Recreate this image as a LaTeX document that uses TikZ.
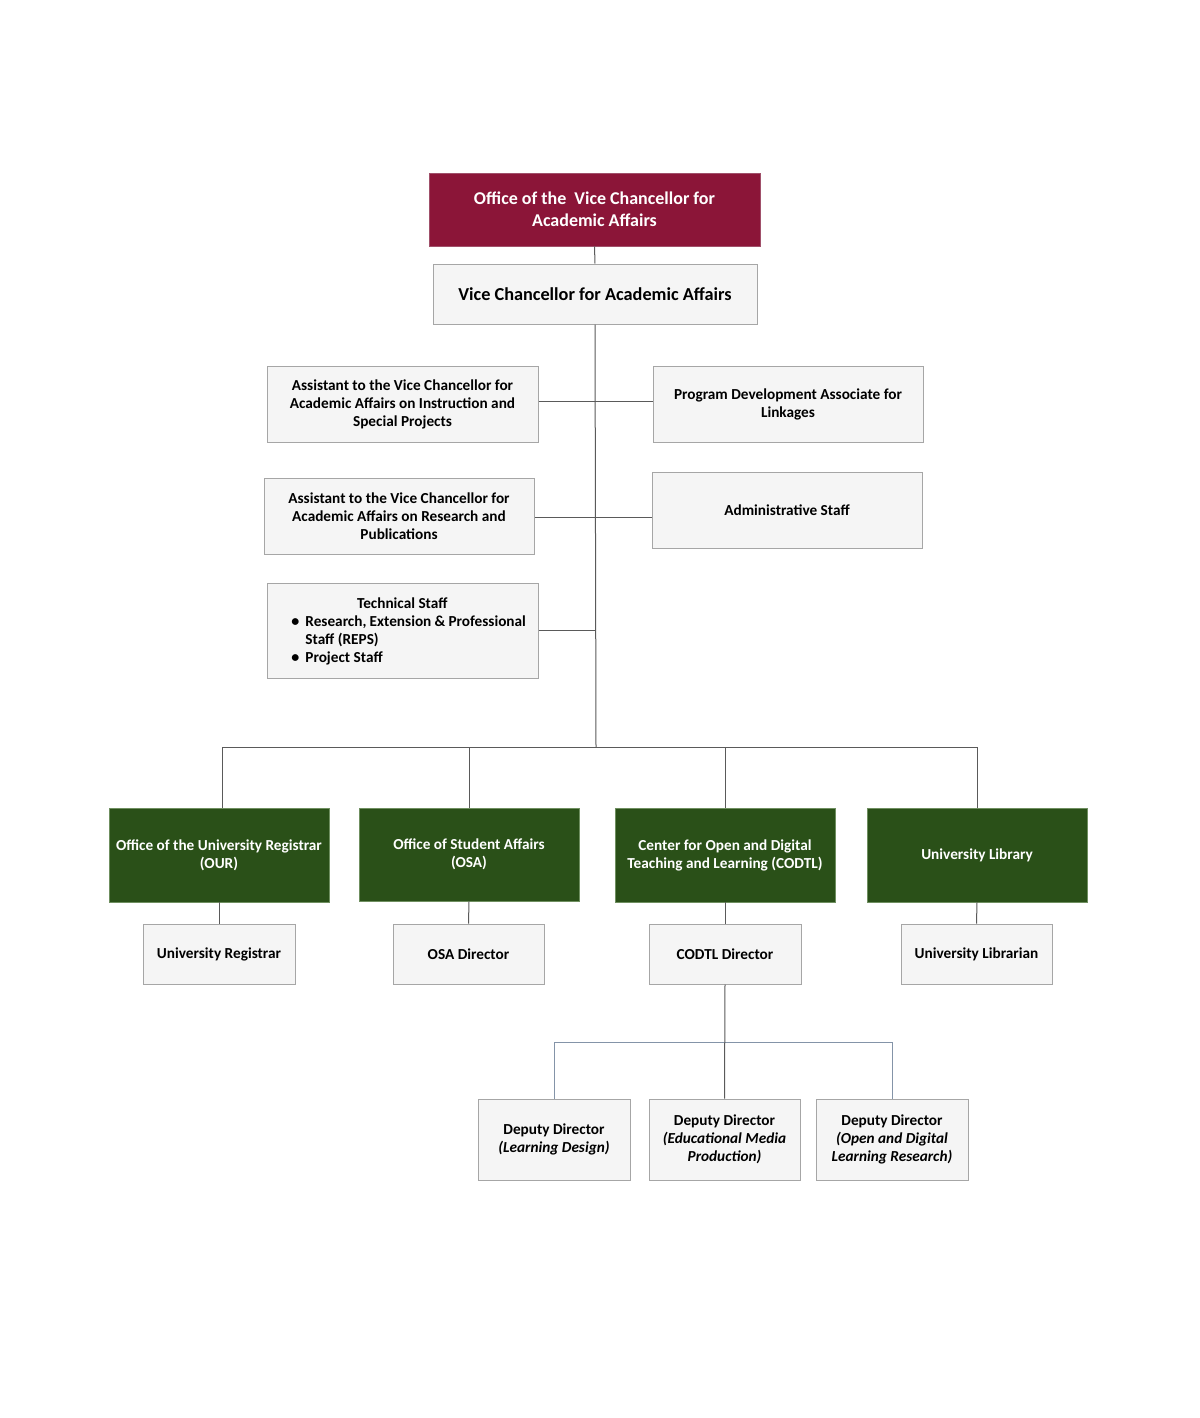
\documentclass[tikz,border=0pt]{standalone}
\usepackage{fontspec}
\setmainfont{Carlito}
\definecolor{maroon}{HTML}{8B1538}
\definecolor{maroonedge}{HTML}{A0506A}
\definecolor{dgreen}{HTML}{2A5018}
\definecolor{greenedge}{HTML}{6F8F60}
\definecolor{boxfill}{HTML}{F5F5F5}
\definecolor{boxedge}{HTML}{A6A6A6}
\definecolor{linegray}{HTML}{5A5A5A}
\definecolor{bluegray}{HTML}{8494A8}
\newcommand\orgbox[7][]{\node[#1, minimum width={(#4-#2)*0.75pt}, minimum height={(#5-#3)*0.75pt}] (#6) at ({(#2+#4)/2},{(#3+#5)/2}) {#7};}
\tikzset{
  base/.style={rectangle, inner sep=0pt, align=center, font=\bfseries\fontsize{11.45}{13.5}\selectfont},
  graybox/.style={base, fill=boxfill, draw=boxedge, line width=0.75pt, text=black},
  greenbox/.style={base, fill=dgreen, draw=greenedge, line width=0.6pt, text=white},
  topbox/.style={base, fill=maroon, draw=maroonedge, line width=0.6pt, text=white, font=\bfseries\fontsize{13.5}{16.5}\selectfont},
  conn/.style={draw=linegray, line width=0.75pt},
  bconn/.style={draw=bluegray, line width=0.75pt},
}
\begin{document}
\begin{tikzpicture}[x=0.75pt, y=-0.75pt]
\useasboundingbox[fill=white] (0,0) rectangle (1200,1418);
% top
\orgbox[topbox]{429}{173}{760}{246}{top}{Office of the\ \ Vice Chancellor for\\Academic Affairs}
\orgbox[graybox, font=\bfseries\fontsize{13.7}{16}\selectfont]{433}{264}{757}{324}{vc}{Vice Chancellor for Academic Affairs}
% staff
\orgbox[graybox]{267}{366}{538}{442}{asst1}{Assistant to the Vice Chancellor for\\Academic Affairs on Instruction and\\Special Projects}
\orgbox[graybox]{653}{366}{923}{442}{prog}{Program Development Associate for\\Linkages}
\orgbox[graybox]{264}{478}{534}{554}{asst2}{Assistant to the Vice Chancellor for\\Academic Affairs on Research and\\Publications}
\orgbox[graybox]{652}{472}{922}{548}{admin}{Administrative Staff}
\orgbox[graybox]{267}{583}{538}{678}{tech}{}
\node[base, anchor=west] (techtext) at (291,631.5) {\begin{minipage}{176pt}\centering Technical Staff\hspace*{9.5pt}\par
\raggedright\hangindent=10.6pt\hangafter=1 \makebox[10.6pt][l]{\large\textbullet}Research, Extension \& Professional\newline Staff (REPS)\par
\makebox[10.6pt][l]{\large\textbullet}Project Staff\par\end{minipage}};
% units
\orgbox[greenbox]{109}{808}{329}{902}{our}{Office of the University Registrar\\(OUR)}
\orgbox[greenbox]{359}{808}{579}{901}{osa}{Office of Student Affairs\\(OSA)}
\orgbox[greenbox]{615}{808}{835}{902}{codtl}{Center for Open and Digital\\Teaching and Learning (CODTL)}
\orgbox[greenbox]{867}{808}{1087}{902}{lib}{University Library}
\orgbox[graybox]{143}{924}{295}{984}{reg}{University Registrar}
\orgbox[graybox]{393}{924}{544}{984}{osadir}{OSA Director}
\orgbox[graybox]{649}{924}{801}{984}{codtldir}{CODTL Director}
\orgbox[graybox]{901}{924}{1052}{984}{libn}{University Librarian}
% deputies
\orgbox[graybox]{478}{1099}{630}{1180}{dep1}{Deputy Director\\\textit{(Learning Design)}}
\orgbox[graybox]{649}{1099}{800}{1180}{dep2}{Deputy Director\\\textit{(Educational Media}\\\textit{Production)}}
\orgbox[graybox]{816}{1099}{968}{1180}{dep3}{Deputy Director\\\textit{(Open and Digital}\\\textit{Learning Research)}}
% coordinates
\coordinate (bus) at (596,747);
\coordinate (dbus) at (724.5,1042);
% connectors
\draw[conn] (top.south) -- (vc.north);
\draw[conn] (vc.south) -- (bus);
\draw[conn] (asst1.east |- 0,401) -- (prog.west |- 0,401);
\draw[conn] (asst2.east |- 0,517) -- (admin.west |- 0,517);
\draw[conn] (tech.east) -- (tech.east -| bus);
\draw[conn] (our.north -| 222,0) -- (222,747) -- (977,747) -- (lib.north);
\draw[conn] (osa.north) -- (osa.north |- bus);
\draw[conn] (codtl.north) -- (codtl.north |- bus);
\draw[conn] (our.south) -- (reg.north);
\draw[conn] (osa.south) -- (osadir.north);
\draw[conn] (codtl.south) -- (codtldir.north);
\draw[conn] (lib.south) -- (libn.north);
\draw[bconn] (dep1.north) |- (dbus) -| (dep3.north);
\draw[conn] (codtldir.south) -- (dep2.north);
\end{tikzpicture}
\end{document}
